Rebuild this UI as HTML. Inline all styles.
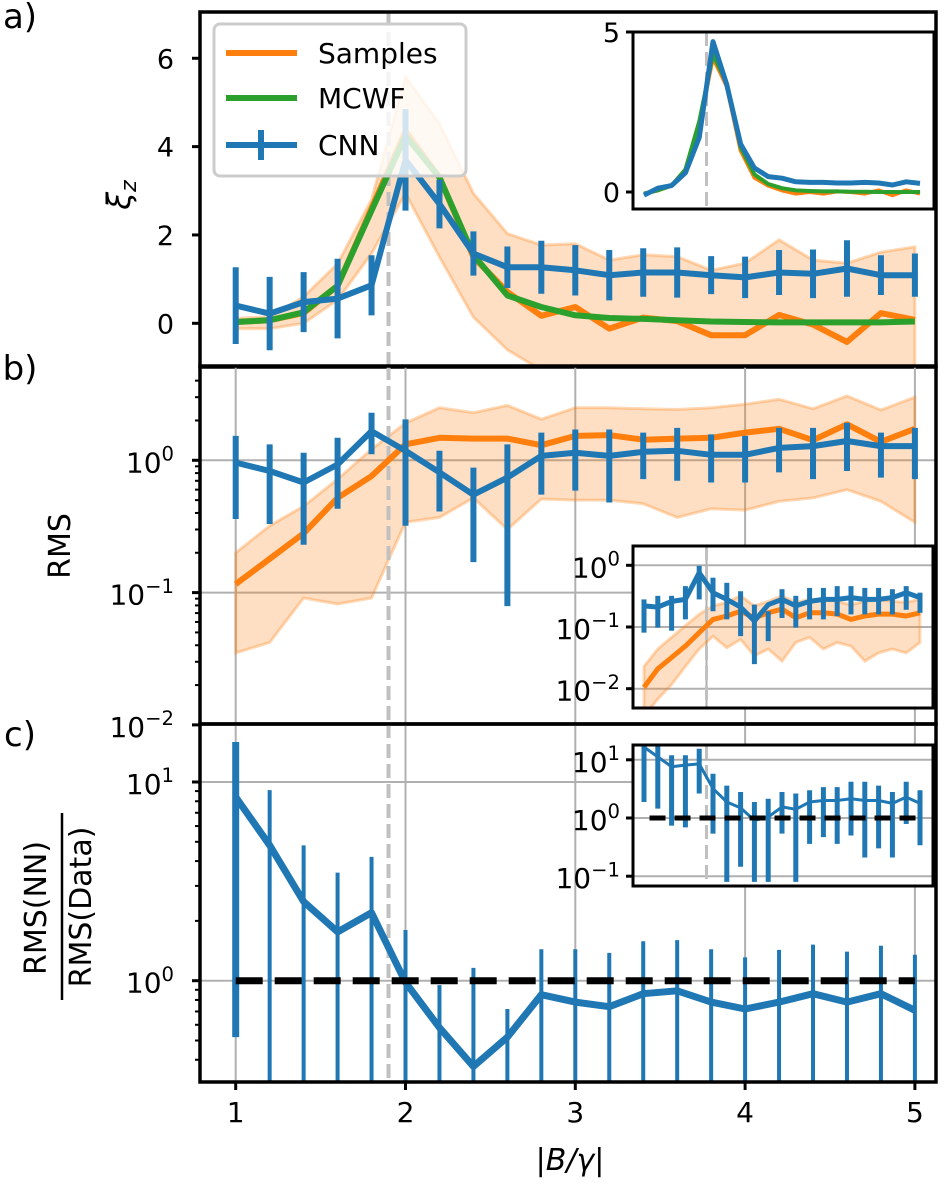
<!DOCTYPE html>
<html><head><meta charset="utf-8"><style>
html,body{margin:0;padding:0;background:#fff}
svg{display:block;font-family:"DejaVu Sans","Liberation Sans",sans-serif}
</style></head><body>
<svg id="fig" width="952" height="1189" viewBox="0 0 952 1189" xmlns="http://www.w3.org/2000/svg"></svg>
<script>
// ---- data ----
const xs = [1,1.2,1.4,1.6,1.8,2,2.2,2.4,2.6,2.8,3,3.2,3.4,3.6,3.8,4,4.2,4.4,4.6,4.8,5];
const xTicks = [1,2,3,4,5];
const critX = 1.9;
// panel a
const aTicks = [0,2,4,6];
const aCnn = [0.4,0.22,0.48,0.56,0.86,3.7,2.7,1.58,1.27,1.27,1.2,1.09,1.15,1.15,1.09,1.04,1.15,1.12,1.24,1.09,1.09];
const aCnnErr = [0.87,0.83,0.68,0.9,0.68,1.15,0.55,0.5,0.47,0.6,0.57,0.57,0.55,0.57,0.43,0.47,0.51,0.55,0.64,0.45,0.49];
const aSamples = [0.03,0.07,0.23,0.85,2.6,4.35,3.3,1.5,0.71,0.17,0.37,-0.12,0.13,0.05,-0.27,-0.27,0.19,-0.03,-0.42,0.23,0.08];
const aMcwf = [0.03,0.07,0.25,0.85,2.55,4.25,3.3,1.55,0.63,0.37,0.18,0.12,0.1,0.07,0.04,0.03,0.02,0.02,0.02,0.02,0.04];
const aBandHi = [0.11,0.15,0.6,1.35,2.8,5.58,4.52,2.94,2.03,1.77,1.8,1.43,1.55,1.51,1.2,1.36,1.89,1.43,1.36,1.61,1.73];
const aBandLo = [-0.12,-0.12,0,0.53,1.58,2.94,1.5,0.14,-0.6,-1.06,-1.5,-1.5,-1.5,-1.5,-1.5,-1.5,-1.5,-1.5,-1.5,-1.5,-1.5];
// inset a
const iaCnn = [-0.1,0.12,0.2,0.6,1.7,4.7,3.35,1.5,0.75,0.48,0.43,0.32,0.3,0.3,0.28,0.28,0.3,0.28,0.22,0.32,0.27];
const iaMcwf = [-0.05,0.05,0.2,0.7,2.2,4.3,3.4,1.4,0.55,0.25,0.12,0.05,0.03,0.02,0.02,0.01,0.01,0.0,0.0,0.0,0.0];
const iaSamples = [-0.05,0.05,0.2,0.7,2.1,4.2,3.3,1.3,0.45,0.2,0.05,-0.05,0,-0.05,0.02,0,-0.05,0.05,-0.1,0.05,-0.05];
// panel b
const bCnn = [0.96,0.83,0.68,0.93,1.66,1.18,0.81,0.55,0.74,1.08,1.14,1.08,1.16,1.18,1.1,1.1,1.24,1.28,1.4,1.28,1.28];
const bCnnHi = [1.53,1.32,1.14,1.48,2.29,2.04,1.18,0.88,1.32,1.62,1.71,1.71,1.62,1.76,1.57,1.53,1.76,1.76,1.92,1.62,1.76];
const bCnnLo = [0.36,0.33,0.23,0.43,1.11,0.32,0.41,0.17,0.079,0.55,0.59,0.48,0.72,0.7,0.68,0.68,0.81,0.72,0.83,0.74,0.72];
const bSamples = [0.116,0.18,0.28,0.52,0.76,1.32,1.48,1.46,1.46,1.3,1.53,1.55,1.43,1.46,1.48,1.62,1.73,1.42,1.87,1.38,1.73];
const bBandHi = [0.2,0.32,0.45,0.72,1.21,1.91,2.5,2.29,2.6,2.04,2.5,2.5,2.45,2.42,2.5,2.65,2.89,2.45,3.06,2.4,3.0];
const bBandLo = [0.035,0.042,0.091,0.082,0.091,0.34,0.37,0.52,0.3,0.51,0.5,0.5,0.47,0.37,0.43,0.42,0.49,0.52,0.6,0.49,0.34];
const bTicks = [0.01,0.1,1];
const bTickLabels = ["\u22122","\u22121","0"];
// inset b
const ibCnn = [0.22,0.21,0.26,0.28,0.76,0.36,0.28,0.21,0.125,0.23,0.28,0.22,0.26,0.28,0.28,0.3,0.28,0.28,0.3,0.36,0.3];
const ibCnnHi = [0.28,0.32,0.32,0.46,0.98,0.63,0.52,0.38,0.23,0.18,0.41,0.32,0.43,0.43,0.46,0.46,0.43,0.43,0.41,0.46,0.36];
const ibCnnLo = [0.081,0.098,0.087,0.133,0.28,0.18,0.133,0.071,0.025,0.059,0.14,0.098,0.133,0.133,0.15,0.16,0.16,0.16,0.16,0.19,0.17];
const ibSamples = [0.0105,0.021,0.032,0.049,0.081,0.133,0.151,0.18,0.141,0.17,0.195,0.141,0.17,0.17,0.162,0.133,0.151,0.162,0.162,0.151,0.17];
const ibBandHi = [0.023,0.044,0.068,0.105,0.16,0.22,0.25,0.32,0.22,0.26,0.32,0.25,0.28,0.28,0.26,0.23,0.26,0.28,0.26,0.25,0.28];
const ibBandLo = [0.0036,0.0068,0.0117,0.023,0.044,0.071,0.046,0.063,0.034,0.044,0.028,0.056,0.068,0.044,0.056,0.049,0.028,0.038,0.044,0.038,0.056];
// panel c
const cRatio = [8.4,4.8,2.5,1.76,2.2,0.98,0.58,0.37,0.52,0.85,0.78,0.74,0.86,0.89,0.78,0.72,0.78,0.86,0.78,0.86,0.71];
const cHi = [15.9,9.1,4.8,3.5,4.2,1.8,0.95,1.16,0.72,1.44,1.44,1.38,1.58,1.6,1.44,1.31,1.43,1.52,1.4,1.5,1.35];
const cLo = [0.52,0.1,0.1,0.1,0.1,0.1,0.1,0.1,0.1,0.1,0.1,0.1,0.1,0.1,0.1,0.1,0.1,0.1,0.1,0.1,0.1];
const cTicks = [1,10];
const cTickLabels = ["0","1"];
// inset c
const icRatio = [16.6,11.2,7.6,8.1,8.5,3.2,1.88,1.49,0.91,1.04,1.55,1.41,1.88,2.0,2.0,2.14,2.0,2.0,1.78,2.29,1.78];
const icHi = [17.8,17.8,12,12,15.5,5.75,3.6,2.8,1.88,2.14,2.8,2.63,3.0,3.4,3.4,4.2,4.2,3.6,2.8,4.2,3.0];
const icLo = [1.88,1.45,0.74,0.69,2.63,0.54,0.08,0.145,0.08,0.08,0.54,0.08,0.36,0.47,0.36,0.5,0.21,0.3,0.21,0.79,0.34];
const insetTicksC = [0.1,1,10];
const insetTickLabelsC = ["\u22121","0","1"];

// ---- helpers ----
const NS="http://www.w3.org/2000/svg";
const svg=document.getElementById('fig');
function el(tag,attrs,parent){const e=document.createElementNS(NS,tag);for(const k in attrs)e.setAttribute(k,attrs[k]);(parent||svg).appendChild(e);return e;}
const BLUE="#1f77b4",ORANGE="#ff7f0e",GREEN="#2ca02c";
const X=v=>235.7+169.8*(v-1);
const IX=i=>644+13.8*i;
const L=Math.log10;
const Ya=v=>323.3-44.17*v;
const Yb=v=>460.3-132.3*L(v);
const Yc=v=>980.7-198.7*L(v);
const IYa=v=>192-32*v;
const IYb=v=>565.3-61.7*L(v);
const IYc=v=>818-58.2*L(v);
function pts(xf,yf,arr){return arr.map((v,i)=>xf(i).toFixed(1)+","+yf(v).toFixed(1)).join(" ");}
const defs=el('defs',{});
function clipD(id,x,y,w,h){const c=document.createElementNS(NS,'clipPath');c.setAttribute('id',id);const r=document.createElementNS(NS,'rect');r.setAttribute('x',x);r.setAttribute('y',y);r.setAttribute('width',w);r.setAttribute('height',h);c.appendChild(r);defs.appendChild(c);}
clipD('ca',200,12,736,355);clipD('cb',200,366,736,358);clipD('cc',200,724,736,358);
clipD('cia',632,32,302,177);clipD('cib',632,546,301,162);clipD('cic',632,745,301,141);
const mx=i=>X(xs[i]);
function band(g,xf,yf,hi,lo,name){
  const p=hi.map((v,i)=>xf(i).toFixed(1)+","+yf(v).toFixed(1)).concat(lo.map((v,i)=>[i,v]).reverse().map(([i,v])=>xf(i).toFixed(1)+","+yf(v).toFixed(1))).join(" ");
  const b=el('polygon',{points:p,fill:ORANGE,'fill-opacity':0.25,stroke:ORANGE,'stroke-opacity':0.3,'stroke-width':3},g);
  
  
}
function line(g,xf,yf,arr,color,w,name){
  const p=el('polyline',{points:pts(xf,yf,arr),fill:'none',stroke:color,'stroke-width':w,'stroke-linejoin':'round'},g);
  
  
}
function ebar(g,x,y1,y2,w,name){
  const e=el('line',{x1:x,x2:x,y1:y1,y2:y2,stroke:BLUE,'stroke-width':w},g);
  
  
}
function txt(x,y,s,size,anchor,name,extra){
  const t=el('text',Object.assign({x:x,y:y,'font-size':size,'text-anchor':anchor||'middle',fill:'#000'},extra||{}));
  t.textContent=s;
  
  
  return t;
}
function pow(x,y,exp,size,name){
  const t=el('text',{x:x,y:y,'font-size':size,'text-anchor':'end',fill:'#000'});
  
  
  const a=document.createElementNS(NS,'tspan');a.textContent='10';t.appendChild(a);
  const b=document.createElementNS(NS,'tspan');b.setAttribute('font-size',size*0.7);b.setAttribute('dy',-size*0.42);b.textContent=exp;t.appendChild(b);
  return t;
}
function gridV(g,y1,y2){xTicks.forEach(v=>{el('line',{x1:X(v),x2:X(v),y1:y1,y2:y2,stroke:'#b0b0b0','stroke-width':2},g);});}
function gridH(g,y,x1,x2){el('line',{x1:x1,x2:x2,y1:y,y2:y,stroke:'#b0b0b0','stroke-width':2},g);}
function dashV(g,x,y1,y2,w){el('line',{x1:x,x2:x,y1:y1,y2:y2,stroke:'#c0c0c0','stroke-width':w||4,'stroke-dasharray':'14,6'},g);}
function frame(x,y,w,h,name,sw){const r=el('rect',{x:x,y:y,width:w,height:h,fill:'none',stroke:'#000','stroke-width':sw||3.5});}
function tickL(x,y,len,w){el('line',{x1:x-len,x2:x,y1:y,y2:y,stroke:'#000','stroke-width':w||3});}
const minors=[2,3,4,5,6,7,8,9];

// ---- panel a ----
const ga=el('g',{'clip-path':'url(#ca)'});
band(ga,mx,Ya,aBandHi,aBandLo,'samples-band-a');
dashV(ga,X(critX),12,367);
line(ga,mx,Ya,aSamples,ORANGE,6,'samples-line-a');
line(ga,mx,Ya,aMcwf,GREEN,6,'mcwf-line-a');
aCnn.forEach((v,i)=>ebar(ga,mx(i),Ya(v+aCnnErr[i]),Ya(v-aCnnErr[i]),6,'cnn-errorbar-a'));
line(ga,mx,Ya,aCnn,BLUE,6,'cnn-line-a');
frame(200,12,736,355,'panel-a-frame');
aTicks.forEach(v=>{tickL(200,Ya(v),8);txt(174,Ya(v)+10,String(v),27,'end','y-tick-a');});
// legend
const lg=el('g',{});
el('rect',{x:214,y:24,width:252,height:152,rx:6,fill:'#fff','fill-opacity':0.8,stroke:'#ccc','stroke-width':3},lg);
[[ORANGE,'Samples',53],[GREEN,'MCWF',98],[BLUE,'CNN',145]].forEach(([c,s,y],k)=>{
  el('line',{x1:226,x2:297,y1:y,y2:y,stroke:c,'stroke-width':6},lg);
  if(k===2)el('line',{x1:261,x2:261,y1:y-15,y2:y+15,stroke:c,'stroke-width':6},lg);
  txt(318,y+10,s,28,'start','legend-entry-'+s.toLowerCase());
});
// inset a
const gia=el('g',{'clip-path':'url(#cia)'});
dashV(gia,IX(4.53),32,209,3);
line(gia,IX,IYa,iaSamples,ORANGE,4,'samples-line-inset-a');
line(gia,IX,IYa,iaMcwf,GREEN,4,'mcwf-line-inset-a');
line(gia,IX,IYa,iaCnn,BLUE,5,'cnn-line-inset-a');
frame(633,32,301,177,'inset-a-frame',3);
[[0,'0'],[5,'5']].forEach(([v,s])=>{tickL(633,IYa(v),7);txt(620,IYa(v)+10,s,27,'end','inset-a-y-tick');});

// ---- panel b ----
const gb=el('g',{'clip-path':'url(#cb)'});
gridV(gb,366,724);bTicks.forEach(v=>gridH(gb,Yb(v),200,936));
band(gb,mx,Yb,bBandHi,bBandLo,'samples-band-b');
dashV(gb,X(critX),366,724);
line(gb,mx,Yb,bSamples,ORANGE,6,'samples-line-b');
bCnn.forEach((v,i)=>ebar(gb,mx(i),Yb(bCnnHi[i]),Yb(bCnnLo[i]),6,'cnn-errorbar-b'));
line(gb,mx,Yb,bCnn,BLUE,6,'cnn-line-b');
frame(200,366,736,358,'panel-b-frame');
bTicks.forEach((v,k)=>{tickL(200,Yb(v),8);pow(174,Yb(v)+12,bTickLabels[k],28,'y-tick-b');});
[0.01,0.1,1].forEach(d=>minors.forEach(m=>{const y=Yb(d*m);if(y>368&&y<722)tickL(200,y,5,2);}));
// inset b
el('rect',{x:633,y:546,width:300,height:162,fill:'#fff'});
const gib=el('g',{'clip-path':'url(#cib)'});
[0.01,0.1,1].forEach(v=>gridH(gib,IYb(v),633,933));
el('line',{x1:IX(4.53),x2:IX(4.53),y1:546,y2:708,stroke:'#b0b0b0','stroke-width':2},gib);
band(gib,IX,IYb,ibBandHi,ibBandLo,'samples-band-inset-b');
dashV(gib,IX(4.53),546,708,3);
line(gib,IX,IYb,ibSamples,ORANGE,5,'samples-line-inset-b');
ibCnn.forEach((v,i)=>ebar(gib,IX(i),IYb(ibCnnHi[i]),IYb(ibCnnLo[i]),5,'cnn-errorbar-inset-b'));
line(gib,IX,IYb,ibCnn,BLUE,5,'cnn-line-inset-b');
frame(633,546,300,162,'inset-b-frame',3);
[[1,'0'],[0.1,'\u22121'],[0.01,'\u22122']].forEach(([v,s])=>{tickL(633,IYb(v),7);pow(620,IYb(v)+12,s,28,'inset-b-y-tick');});

// ---- panel c ----
const gc=el('g',{'clip-path':'url(#cc)'});
gridV(gc,724,1082);cTicks.forEach(v=>gridH(gc,Yc(v),200,936));
dashV(gc,X(critX),724,1082);
cRatio.forEach((v,i)=>ebar(gc,mx(i),Yc(cHi[i]),Yc(cLo[i]),i===0?7:4,'ratio-errorbar-c'));
line(gc,mx,Yc,cRatio,BLUE,7,'ratio-line-c');
const ref=el('line',{x1:X(1),x2:X(5),y1:Yc(1),y2:Yc(1),stroke:'#000','stroke-width':7,'stroke-dasharray':'27,12'},gc);

frame(200,724,736,358,'panel-c-frame');
cTicks.forEach((v,k)=>{tickL(200,Yc(v),8);pow(174,Yc(v)+12,cTickLabels[k],28,'y-tick-c');});
[0.1,1,10].forEach(d=>minors.forEach(m=>{const y=Yc(d*m);if(y<1080&&y>726)tickL(200,y,5,2);}));
// inset c
el('rect',{x:633,y:745,width:300,height:141,fill:'#fff'});
const gic=el('g',{'clip-path':'url(#cic)'});
insetTicksC.forEach(v=>gridH(gic,IYc(v),633,933));
dashV(gic,IX(4.53),745,886,3);
icRatio.forEach((v,i)=>ebar(gic,IX(i),IYc(icHi[i]),IYc(icLo[i]),5,'ratio-errorbar-inset-c'));
line(gic,IX,IYc,icRatio,BLUE,3,'ratio-line-inset-c');
el('line',{x1:IX(0.4),x2:IX(19.7),y1:IYc(1),y2:IYc(1),stroke:'#000','stroke-width':5,'stroke-dasharray':'16,9'},gic);
frame(633,745,300,141,'inset-c-frame',3);
insetTicksC.forEach((v,k)=>{tickL(633,IYc(v),7);pow(620,IYc(v)+12,insetTickLabelsC[k],28,'inset-c-y-tick');});

// ---- x axis ----
xTicks.forEach(v=>{el('line',{x1:X(v),x2:X(v),y1:1082,y2:1090,stroke:'#000','stroke-width':3});txt(X(v),1122,String(v),28,'middle','x-tick');});
txt(570,1170,'|B/\u03b3|',30,'middle','x-axis-title',{'font-style':'italic'});
// labels
txt(20,28,'a)',34,'middle','panel-a-label');
txt(20,380,'b)',34,'middle','panel-b-label');
txt(20,746,'c)',34,'middle','panel-c-label');
const yl=txt(130,195,'\u03be',32,'middle','y-axis-title-a',{transform:'rotate(-90 130 195)','font-style':'italic'});
const sub=document.createElementNS(NS,'tspan');sub.setAttribute('font-size','22');sub.setAttribute('dy','6');sub.textContent='z';yl.appendChild(sub);
txt(70,546,'RMS',30,'middle','y-axis-title-b',{transform:'rotate(-90 70 546)'});
txt(46,908,'RMS(NN)',30,'middle','y-axis-title-c-numerator',{transform:'rotate(-90 46 908)'});
txt(91,907,'RMS(Data)',30,'middle','y-axis-title-c-denominator',{transform:'rotate(-90 91 907)'});
el('line',{x1:62,x2:62,y1:813,y2:1000,stroke:'#000','stroke-width':2.5});
</script>
</body></html>
